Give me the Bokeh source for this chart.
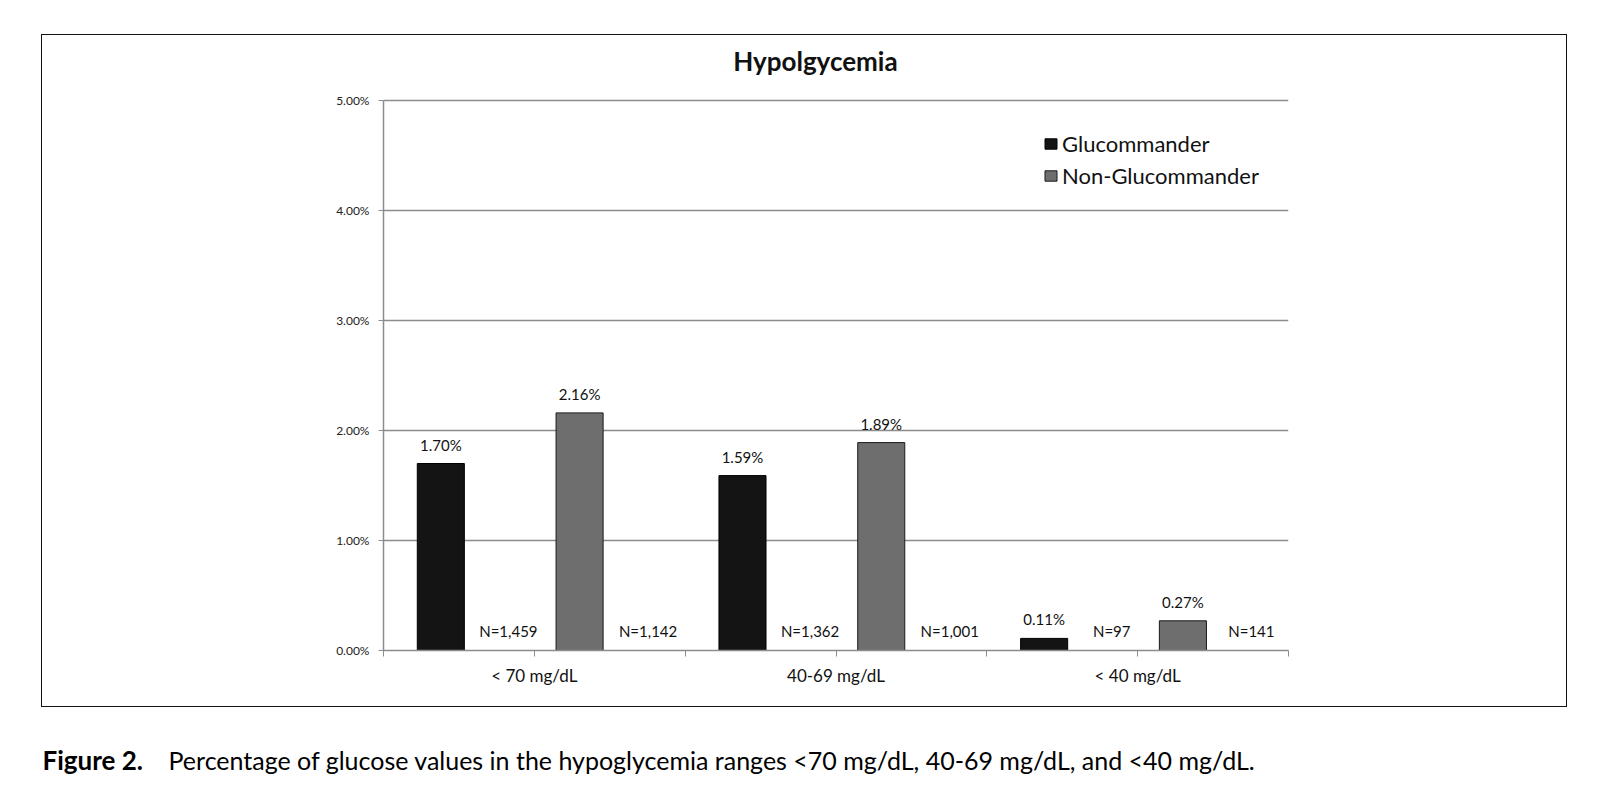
from bokeh.plotting import figure
from bokeh.layouts import column
from bokeh.models import (Range1d, FixedTicker, NumeralTickFormatter, Label,
                          Legend, LegendItem, ColumnDataSource)
from bokeh.core.properties import value
from bokeh.embed import file_html
from bokeh.resources import INLINE
import numpy as np

# ---- data ----
categories = ["< 70 mg/dL", "40-69 mg/dL", "< 40 mg/dL"]
glucommander = [1.70, 1.59, 0.11]          # percent
non_glucommander = [2.16, 1.89, 0.27]      # percent
n_glucommander = ["N=1,459", "N=1,362", "N=97"]
n_non_glucommander = ["N=1,142", "N=1,001", "N=141"]
y_ticks = [0.00, 1.00, 2.00, 3.00, 4.00, 5.00]
title_text = "Hypolgycemia"
caption_bold = "Figure 2."
caption_text = "Percentage of glucose values in the hypoglycemia ranges <70 mg/dL, 40-69 mg/dL, and <40 mg/dL."

FONT = "Lato"
CW, CH = 1526, 673          # chart canvas size (inside the border)
PLOT_H = 550                # pixel height of the 0..5% area
TOP_PAD = 55                # extra frame space above 5% for the title
Y_MAX = y_ticks[-1] / 100
per_px = Y_MAX / PLOT_H

idx = np.arange(len(categories))
bar_w = 0.156

src_g = ColumnDataSource(dict(x=idx + 0.19, top=np.array(glucommander) / 100,
                              lab=[f"{v:.2f}%" for v in glucommander],
                              nx=idx + 0.414, n=n_glucommander))
src_n = ColumnDataSource(dict(x=idx + 0.65, top=np.array(non_glucommander) / 100,
                              lab=[f"{v:.2f}%" for v in non_glucommander],
                              nx=idx + 0.877, n=n_non_glucommander))

p = figure(width=CW, height=CH, output_backend="svg", toolbar_location=None,
           x_range=Range1d(0, len(categories)),
           y_range=Range1d(0, Y_MAX + TOP_PAD * per_px),
           min_border_left=341, min_border_right=280,
           min_border_top=65 - TOP_PAD, min_border_bottom=58)
p.margin = (34, 0, 0, 41)
p.styles = {"border": "1.5px solid #111111"}
p.frame_align = False
p.outline_line_color = None
p.background_fill_color = "white"
p.border_fill_color = "white"

rg = p.vbar(x="x", top="top", width=bar_w, source=src_g,
            fill_color="#141414", line_color="#000000", line_width=1)
rn = p.vbar(x="x", top="top", width=bar_w, source=src_n,
            fill_color="#6e6e6e", line_color="#1a1a1a", line_width=1)

# value labels and N labels
for s in (src_g, src_n):
    p.text(x="x", y="top", text="lab", source=s, text_align="center",
           text_baseline="alphabetic", y_offset=-19, text_font=value(FONT),
           text_font_size="15px", text_color="#111111")
    p.text(x="nx", y=0, text="n", source=s, text_align="center",
           text_baseline="alphabetic", y_offset=-20, text_font=value(FONT),
           text_font_size="15px", text_color="#111111")

# chart title (inside the extended frame, above the 5% line)
p.add_layout(Label(x=len(categories) * 0.4773, y=Y_MAX + 40 * per_px,
                   text=title_text, text_align="center", text_baseline="alphabetic",
                   text_font=FONT, text_font_style="bold", text_font_size="26px",
                   text_color="#111111"))

# grid / axes
p.xgrid.visible = False
p.ygrid.ticker = FixedTicker(ticks=[t / 100 for t in y_ticks])
p.ygrid.grid_line_color = "#8c8c8c"
p.ygrid.grid_line_width = 1.5

p.yaxis.ticker = FixedTicker(ticks=[t / 100 for t in y_ticks])
p.yaxis.bounds = (0, Y_MAX)
p.yaxis.formatter = NumeralTickFormatter(format="0.00%")
p.yaxis.axis_line_color = "#8c8c8c"
p.yaxis.axis_line_width = 1.5
p.yaxis.major_tick_line_color = "#8c8c8c"
p.yaxis.major_tick_out = 5
p.yaxis.major_tick_in = 0
p.yaxis.minor_tick_line_color = None
p.yaxis.major_label_standoff = 9
p.yaxis.major_label_text_font = FONT
p.yaxis.major_label_text_font_size = "12px"
p.yaxis.major_label_text_color = "#222222"

xt = [i * 0.5 for i in range(2 * len(categories) + 1)]
p.xaxis.ticker = FixedTicker(ticks=xt)
overrides = {t: "" for t in xt}
for i, c in enumerate(categories):
    overrides[i + 0.5] = c
p.xaxis.major_label_overrides = overrides
p.xaxis.axis_line_color = "#8c8c8c"
p.xaxis.axis_line_width = 1.5
p.xaxis.major_tick_line_color = "#8c8c8c"
p.xaxis.major_tick_out = 6
p.xaxis.major_tick_in = 0
p.xaxis.minor_tick_line_color = None
p.xaxis.major_label_standoff = 8
p.xaxis.major_label_text_font = FONT
p.xaxis.major_label_text_font_size = "17px"
p.xaxis.major_label_text_color = "#111111"

# legend
legend = Legend(items=[LegendItem(label="Glucommander", renderers=[rg]),
                       LegendItem(label="Non-Glucommander", renderers=[rn])],
                location=(660, 461), orientation="vertical",
                glyph_width=15, glyph_height=13, label_height=20,
                label_standoff=4, spacing=5, padding=0, margin=0,
                border_line_color=None, background_fill_alpha=0,
                label_text_font=FONT, label_text_font_size="22px",
                label_text_color="#111111")
p.add_layout(legend, "center")

# caption figure
cap = figure(width=1600, height=86, output_backend="svg", toolbar_location=None,
             x_axis_type=None, y_axis_type=None,
             x_range=Range1d(0, 1), y_range=Range1d(0, 1),
             min_border=0, min_border_left=0, min_border_right=0,
             min_border_top=0, min_border_bottom=0)
cap.frame_align = False
cap.outline_line_color = None
cap.grid.visible = False
cap.add_layout(Label(x=42, y=34, x_units="screen", y_units="screen",
                     text=caption_bold, text_align="left", text_baseline="alphabetic",
                     text_font=FONT, text_font_style="bold", text_font_size="26px",
                     text_color="#000000"))
cap.add_layout(Label(x=168, y=34, x_units="screen", y_units="screen",
                     text=caption_text, text_align="left", text_baseline="alphabetic",
                     text_font=FONT, text_font_size="25px",
                     text_color="#000000"))

layout = column(p, cap, spacing=0)
open("out.html", "w").write(file_html(layout, INLINE))
